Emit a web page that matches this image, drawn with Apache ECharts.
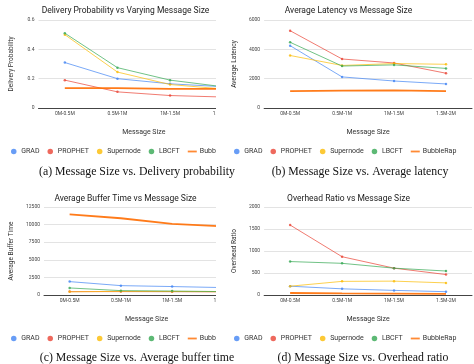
<!DOCTYPE html>
<html><head><meta charset="utf-8">
<script src="https://cdn.jsdelivr.net/npm/echarts@6/dist/echarts.min.js"></script>
<style>
html,body{margin:0;padding:0;background:#fff;width:474px;height:364px;overflow:hidden;}
.clip{position:absolute;overflow:hidden;}
.panel{position:absolute;width:251px;height:165px;}
#base{position:absolute;left:0;top:0;width:474px;height:364px;}
</style>
</head><body>
<div id="base"></div>
<div class="clip" style="left:0;top:0;width:216px;height:165px;"><div class="panel" id="pa" style="left:0;top:0;"></div></div>
<div class="clip" style="left:223px;top:0;width:251px;height:165px;"><div class="panel" id="pb" style="left:0;top:0;"></div></div>
<div class="clip" style="left:0;top:182px;width:216px;height:165px;"><div class="panel" id="pc" style="left:0;top:0;"></div></div>
<div class="clip" style="left:223px;top:182px;width:251px;height:165px;"><div class="panel" id="pd" style="left:0;top:0;"></div></div>
<script>
// ---- data ----
const categories = ['0M-0.5M', '0.5M-1M', '1M-1.5M', '1.5M-2M'];
const seriesNames = ['GRAD', 'PROPHET', 'Supernode', 'LBCFT', 'BubbleRap'];

const deliveryGRAD      = [0.31, 0.20, 0.165, 0.145];
const deliveryPROPHET   = [0.19, 0.11, 0.085, 0.075];
const deliverySupernode = [0.50, 0.245, 0.16, 0.13];
const deliveryLBCFT     = [0.51, 0.275, 0.19, 0.145];
const deliveryBubbleRap = [0.135, 0.135, 0.13, 0.13];

const latencyGRAD      = [4250, 2120, 1840, 1640];
const latencyPROPHET   = [5270, 3340, 3070, 2370];
const latencySupernode = [3580, 2900, 3030, 2980];
const latencyLBCFT     = [4480, 2860, 2940, 2700];
const latencyBubbleRap = [1150, 1180, 1200, 1150];

const bufferGRAD      = [1900, 1330, 1200, 1050];
const bufferPROPHET   = [480, 480, 470, 450];
const bufferSupernode = [450, 520, 500, 470];
const bufferLBCFT     = [1000, 620, 560, 480];
const bufferBubbleRap = [11450, 10900, 10100, 9750];

const overheadGRAD      = [200, 140, 105, 75];
const overheadPROPHET   = [1590, 870, 610, 465];
const overheadSupernode = [200, 310, 315, 275];
const overheadLBCFT     = [760, 720, 610, 545];
const overheadBubbleRap = [45, 35, 30, 25];

const captions = [
  '(a) Message Size vs. Delivery probability',
  '(b) Message Size vs. Average latency',
  '(c) Message Size vs. Average buffer time',
  '(d) Message Size vs. Overhead ratio'
];

// ---- styling ----
const colors = ['#4285F4', '#EA4335', '#FBBC04', '#34A853', '#FF6D01'];
const FONT = 'Roboto, Arial, sans-serif';

function makeOption(cfg) {
  const dataSets = cfg.data;
  const series = seriesNames.map((n, i) => {
    const isBubble = n === 'BubbleRap';
    return {
      name: n, type: 'line', data: dataSets[i],
      symbol: isBubble ? 'none' : 'circle',
      symbolSize: 2.5,
      lineStyle: { width: isBubble ? 1.8 : 1, color: colors[i], opacity: isBubble ? 0.9 : 0.7 },
      itemStyle: { color: colors[i], opacity: 0.8 },
      z: isBubble ? 3 : 2
    };
  });
  return {
    animation: false,
    color: colors,
    textStyle: { fontFamily: FONT },
    title: {
      text: cfg.title, left: 'center', top: cfg.titleTop,
      textStyle: { fontSize: 8.5, fontWeight: 'normal', color: '#222', fontFamily: FONT }
    },
    grid: { left: cfg.gridLeft, right: 2, top: cfg.gridTop, height: 88 },
    legend: {
      left: 6, top: cfg.legendTop, width: 245, itemWidth: 9, itemHeight: 5.5, itemGap: 8,
      symbolKeepAspect: true,
      textStyle: { fontSize: 7, color: '#333', fontFamily: FONT, padding: [0, 0, 0, -2] },
      data: seriesNames.map(n => n === 'BubbleRap'
        ? { name: n, icon: 'path://M0,0h10v2h-10z' }
        : { name: n, icon: 'circle' })
    },
    xAxis: {
      type: 'category', data: categories, boundaryGap: true,
      axisTick: { show: false },
      axisLine: { lineStyle: { color: '#444', width: 1 } },
      axisLabel: { fontSize: 5, color: '#444', margin: 3.5, fontFamily: FONT },
      name: 'Message Size', nameLocation: 'middle', nameGap: 20.5,
      nameTextStyle: { fontSize: 7, color: '#333', fontFamily: FONT }
    },
    yAxis: {
      type: 'value', min: 0, max: cfg.yMax, interval: cfg.yInterval,
      axisLine: { show: false }, axisTick: { show: false },
      axisLabel: { fontSize: 5, color: '#444', margin: 4, fontFamily: FONT, formatter: v => String(v) },
      splitLine: { lineStyle: { color: '#e3e3e3', width: 1 } },
      name: cfg.yName, nameLocation: 'middle', nameGap: cfg.yNameGap, nameRotate: 90,
      nameTextStyle: { fontSize: 6.5, color: '#333', fontFamily: FONT }
    },
    series: series
  };
}

const panels = [
  { id: 'pa', title: 'Delivery Probability vs Varying Message Size', titleTop: 1, gridTop: 20, gridLeft: 32, legendTop: 143,
    yMax: 0.6, yInterval: 0.2, yName: 'Delivery Probability', yNameGap: 23.5,
    data: [deliveryGRAD, deliveryPROPHET, deliverySupernode, deliveryLBCFT, deliveryBubbleRap] },
  { id: 'pb', title: 'Average Latency vs Message Size', titleTop: 1.5, gridTop: 20, gridLeft: 32, legendTop: 143,
    yMax: 6000, yInterval: 2000, yName: 'Average Latency', yNameGap: 23.5,
    data: [latencyGRAD, latencyPROPHET, latencySupernode, latencyLBCFT, latencyBubbleRap] },
  { id: 'pc', title: 'Average Buffer Time vs Message Size', titleTop: 7, gridTop: 25, gridLeft: 37.5, legendTop: 148,
    yMax: 12500, yInterval: 2500, yName: 'Average Buffer Time', yNameGap: 29,
    data: [bufferGRAD, bufferPROPHET, bufferSupernode, bufferLBCFT, bufferBubbleRap] },
  { id: 'pd', title: 'Overhead Ratio vs Message Size', titleTop: 7, gridTop: 25, gridLeft: 34, legendTop: 148,
    yMax: 2000, yInterval: 500, yName: 'Overhead Ratio', yNameGap: 25.5,
    data: [overheadGRAD, overheadPROPHET, overheadSupernode, overheadLBCFT, overheadBubbleRap] }
];

panels.forEach(p => {
  const c = echarts.init(document.getElementById(p.id), null, { renderer: 'canvas' });
  c.setOption(makeOption(p));
});

// captions
const capPos = [[137, 172], [360, 172], [137, 358], [363, 358]];
const base = echarts.init(document.getElementById('base'));
base.setOption({
  animation: false,
  graphic: captions.map((t, i) => ({
    type: 'text', x: capPos[i][0], y: capPos[i][1],
    style: { text: t, fontSize: 11.8, fontFamily: '"Liberation Serif", "DejaVu Serif", serif',
             fill: '#111', align: 'center', verticalAlign: 'middle' }
  }))
});
</script>
</body></html>
